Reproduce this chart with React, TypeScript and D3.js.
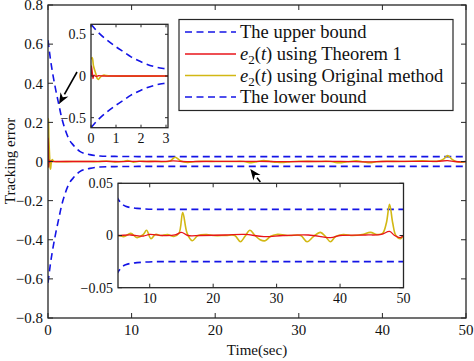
import React from "react";
import * as d3 from "d3";

// ---- Data ----
const boundTime = [0, 0.3, 0.6, 1, 1.3, 1.6, 2, 2.5, 3, 3.8, 5, 6.2, 8, 12, 50];
const upperBound = [0.62, 0.52, 0.44, 0.35, 0.29, 0.23, 0.17, 0.115, 0.085, 0.052, 0.035, 0.028, 0.026, 0.025, 0.025];

const timeTheorem = [0, 0.02, 0.05, 0.08, 0.12, 0.2, 0.3, 0.5, 1, 3, 5, 7, 9, 10, 12, 14, 15, 16, 18, 22, 25, 28, 31, 35, 38.5, 40, 44, 46.5, 47.8, 48.6, 49.5, 50];
const e2Theorem = [0, 0.12, 0.05, -0.03, 0.01, -0.005, 0.003, 0, 0, 0, 0, 0.0005, -0.0005, 0.001, 0, 0.0005, 0.003, 0, 0, 0.0005, 0.001, -0.001, 0, 0.0005, -0.002, 0, 0.0005, 0.001, 0.004, 0, -0.002, 0];

const timeOriginal = [0, 0.05, 0.1, 0.2, 0.25, 0.3, 0.38, 0.5, 0.6, 0.8, 3, 5, 6, 7, 8, 9, 9.5, 10.2, 10.9, 11.8, 12.8, 13.8, 14.6, 15.2, 15.9, 16.7, 17.6, 19, 20, 22, 23.4, 24.3, 25, 25.8, 26.6, 27.4, 28.2, 29, 30, 32, 33.8, 34.8, 35.8, 36.9, 37.7, 38.5, 39.3, 40.5, 42, 43.5, 44.8, 45.8, 46.7, 47.3, 47.8, 48.3, 48.8, 49.5, 50];
const e2Original = [0.2, 0.22, 0.12, 0.02, -0.03, -0.04, -0.01, 0.01, 0.005, 0, 0, 0, -0.001, 0.002, -0.002, 0.001, 0.005, -0.003, 0.001, 0, 0.001, -0.001, 0.002, 0.022, 0.002, -0.005, 0, 0.001, 0, 0, 0, -0.006, -0.001, 0.005, 0, -0.004, -0.005, -0.001, 0.001, 0, 0, -0.006, -0.001, 0.003, -0.001, -0.006, -0.001, 0.001, 0, 0.001, 0.003, 0.001, 0.002, 0.012, 0.03, 0.012, 0, -0.003, 0];

const mainXTicks = [0, 10, 20, 30, 40, 50];
const mainYTicks = [-0.8, -0.6, -0.4, -0.2, 0, 0.2, 0.4, 0.6, 0.8];
const inset1XTicks = [0, 1, 2, 3];
const inset1YTicks = [-0.5, 0, 0.5];
const inset2XTicks = [10, 20, 30, 40, 50];
const inset2YTicks = [-0.05, 0, 0.05];

const legendLabels = ["The upper bound", "using Theorem 1", "using Original method", "The lower bound"];

// ---- Styles ----
const BLUE = "#1414e6";
const RED = "#e8141a";
const YELLOW = "#d2b814";
const AXIS = "#262626";
const FONT = "'Liberation Serif', 'Times New Roman', 'DejaVu Serif', serif";

type Pt = [number, number];
const zip = (t: number[], v: number[]): Pt[] => t.map((d, i) => [d, v[i]]);

const boundUp = zip(boundTime, upperBound);
const boundLow = zip(boundTime, upperBound.map((v) => -v));
const theo = zip(timeTheorem, e2Theorem);
const orig = zip(timeOriginal, e2Original);

function Panel({
  id, x, y, xTicks, yTicks, fmtY, fontSize, tickLen, labelPad,
}: {
  id: string;
  x: d3.ScaleLinear<number, number>;
  y: d3.ScaleLinear<number, number>;
  xTicks: number[];
  yTicks: number[];
  fmtY: (v: number) => string;
  fontSize: number;
  tickLen: number;
  labelPad: number;
}) {
  const [x0, x1] = x.range();
  const [y0, y1] = y.range();
  const bound = d3.line<Pt>().x((d) => x(d[0])).y((d) => y(d[1])).curve(d3.curveMonotoneX);
  const sig = d3.line<Pt>().x((d) => x(d[0])).y((d) => y(d[1])).curve(d3.curveCatmullRom.alpha(0.5));
  return (
    <g>
      <defs>
        <clipPath id={id}>
          <rect x={x0} y={y1} width={x1 - x0} height={y0 - y1} />
        </clipPath>
      </defs>
      <rect x={x0} y={y1} width={x1 - x0} height={y0 - y1} fill="white" />
      <g clipPath={`url(#${id})`} fill="none">
        <path d={bound(boundUp) || ""} stroke={BLUE} strokeWidth={1.6} strokeDasharray="7,4.5" />
        <path d={bound(boundLow) || ""} stroke={BLUE} strokeWidth={1.6} strokeDasharray="7,4.5" />
        <path d={sig(orig) || ""} stroke={YELLOW} strokeWidth={1.6} />
        <path d={sig(theo) || ""} stroke={RED} strokeWidth={1.3} />
      </g>
      {xTicks.map((t) => (
        <g key={"x" + t}>
          <line x1={x(t)} x2={x(t)} y1={y0} y2={y0 - tickLen} stroke={AXIS} />
          <line x1={x(t)} x2={x(t)} y1={y1} y2={y1 + tickLen} stroke={AXIS} />
          <text x={x(t)} y={y0 + labelPad + fontSize * 0.75} textAnchor="middle" fontSize={fontSize} style={{ fontFamily: FONT }} fill="#111">
            {t}
          </text>
        </g>
      ))}
      {yTicks.map((t) => (
        <g key={"y" + t}>
          <line x1={x0} x2={x0 + tickLen} y1={y(t)} y2={y(t)} stroke={AXIS} />
          <line x1={x1} x2={x1 - tickLen} y1={y(t)} y2={y(t)} stroke={AXIS} />
          <text x={x0 - 5} y={y(t)} dy="0.35em" textAnchor="end" fontSize={fontSize} style={{ fontFamily: FONT }} fill="#111">
            {fmtY(t)}
          </text>
        </g>
      ))}
      <rect x={x0} y={y1} width={x1 - x0} height={y0 - y1} fill="none" stroke={AXIS} strokeWidth={1.3} />
    </g>
  );
}

function Arrow({ from, to }: { from: Pt; to: Pt }) {
  const [fx, fy] = from;
  const [tx, ty] = to;
  const ang = Math.atan2(ty - fy, tx - fx);
  const hl = 11, hw = 4.5;
  const bx = tx - hl * Math.cos(ang), by = ty - hl * Math.sin(ang);
  const px = -Math.sin(ang) * hw, py = Math.cos(ang) * hw;
  return (
    <g>
      <line x1={fx} y1={fy} x2={bx} y2={by} stroke="#000" strokeWidth={1.6} />
      <path d={`M${tx},${ty} L${bx + px},${by + py} L${bx + 0.3 * (tx - bx)},${by + 0.3 * (ty - by)} L${bx - px},${by - py} Z`} fill="#000" />
    </g>
  );
}

export default function App() {
  const W = 474, H = 361;
  const mx = d3.scaleLinear().domain([0, 50]).range([48, 466]);
  const my = d3.scaleLinear().domain([-0.8, 0.8]).range([318, 5]);
  const i1x = d3.scaleLinear().domain([0, 3.08]).range([91, 168]);
  const i1y = d3.scaleLinear().domain([-0.62, 0.62]).range([127.7, 24.3]);
  const i2x = d3.scaleLinear().domain([5, 50]).range([118, 403.5]);
  const i2y = d3.scaleLinear().domain([-0.05, 0.05]).range([287.7, 183.3]);

  const legendX = 179, legendY = 19.5, legendW = 274, legendH = 91;
  const rowY = [32, 54, 75.5, 97];
  const legendColors = [BLUE, RED, YELLOW, BLUE];
  const legendDash = ["7,4.5", "", "", "7,4.5"];

  return (
    <svg width={W} height={H} style={{ position: "absolute", left: 0, top: 0, background: "white", fontFamily: FONT }}>
      <rect width={W} height={H} fill="white" />
      <Panel id="cmain" x={mx} y={my} xTicks={mainXTicks} yTicks={mainYTicks}
        fmtY={(v) => (v === 0 ? "0" : d3.format(".1f")(v))} fontSize={15} tickLen={5} labelPad={6} />
      <text x={257} y={355} textAnchor="middle" fontSize={15} style={{ fontFamily: FONT }} fill="#111">Time(sec)</text>
      <text transform="translate(15,161) rotate(-90)" textAnchor="middle" fontSize={15} style={{ fontFamily: FONT }} fill="#111">Tracking error</text>

      <Arrow from={[mx(3.47), my(0.4575)]} to={[mx(1.32), my(0.294)]} />
      <Arrow from={[mx(25.4), my(-0.105)]} to={[mx(24.2), my(-0.038)]} />

      <Panel id="cin1" x={i1x} y={i1y} xTicks={inset1XTicks} yTicks={inset1YTicks}
        fmtY={(v) => (v === 0 ? "0" : d3.format(".1f")(v))} fontSize={14} tickLen={3} labelPad={5} />
      <Panel id="cin2" x={i2x} y={i2y} xTicks={inset2XTicks} yTicks={inset2YTicks}
        fmtY={(v) => (v === 0 ? "0" : d3.format(".2f")(v))} fontSize={14} tickLen={4} labelPad={5} />

      <g>
        <rect x={legendX} y={legendY} width={legendW} height={legendH} fill="white" stroke={AXIS} strokeWidth={1.2} />
        {legendLabels.map((lab, i) => (
          <g key={lab}>
            <line x1={185} x2={236} y1={rowY[i]} y2={rowY[i]} stroke={legendColors[i]} strokeWidth={1.6}
              strokeDasharray={legendDash[i] || undefined} />
            <text x={240} y={rowY[i]} dy="0.33em" fontSize={18.5} style={{ fontFamily: FONT }} fill="#111">
              {i === 1 || i === 2 ? (
                <>
                  <tspan fontStyle="italic">e</tspan>
                  <tspan fontSize={13} dy="4">2</tspan>
                  <tspan dy="-4">(</tspan>
                  <tspan fontStyle="italic">t</tspan>
                  <tspan>) {lab}</tspan>
                </>
              ) : (
                lab
              )}
            </text>
          </g>
        ))}
      </g>
    </svg>
  );
}
